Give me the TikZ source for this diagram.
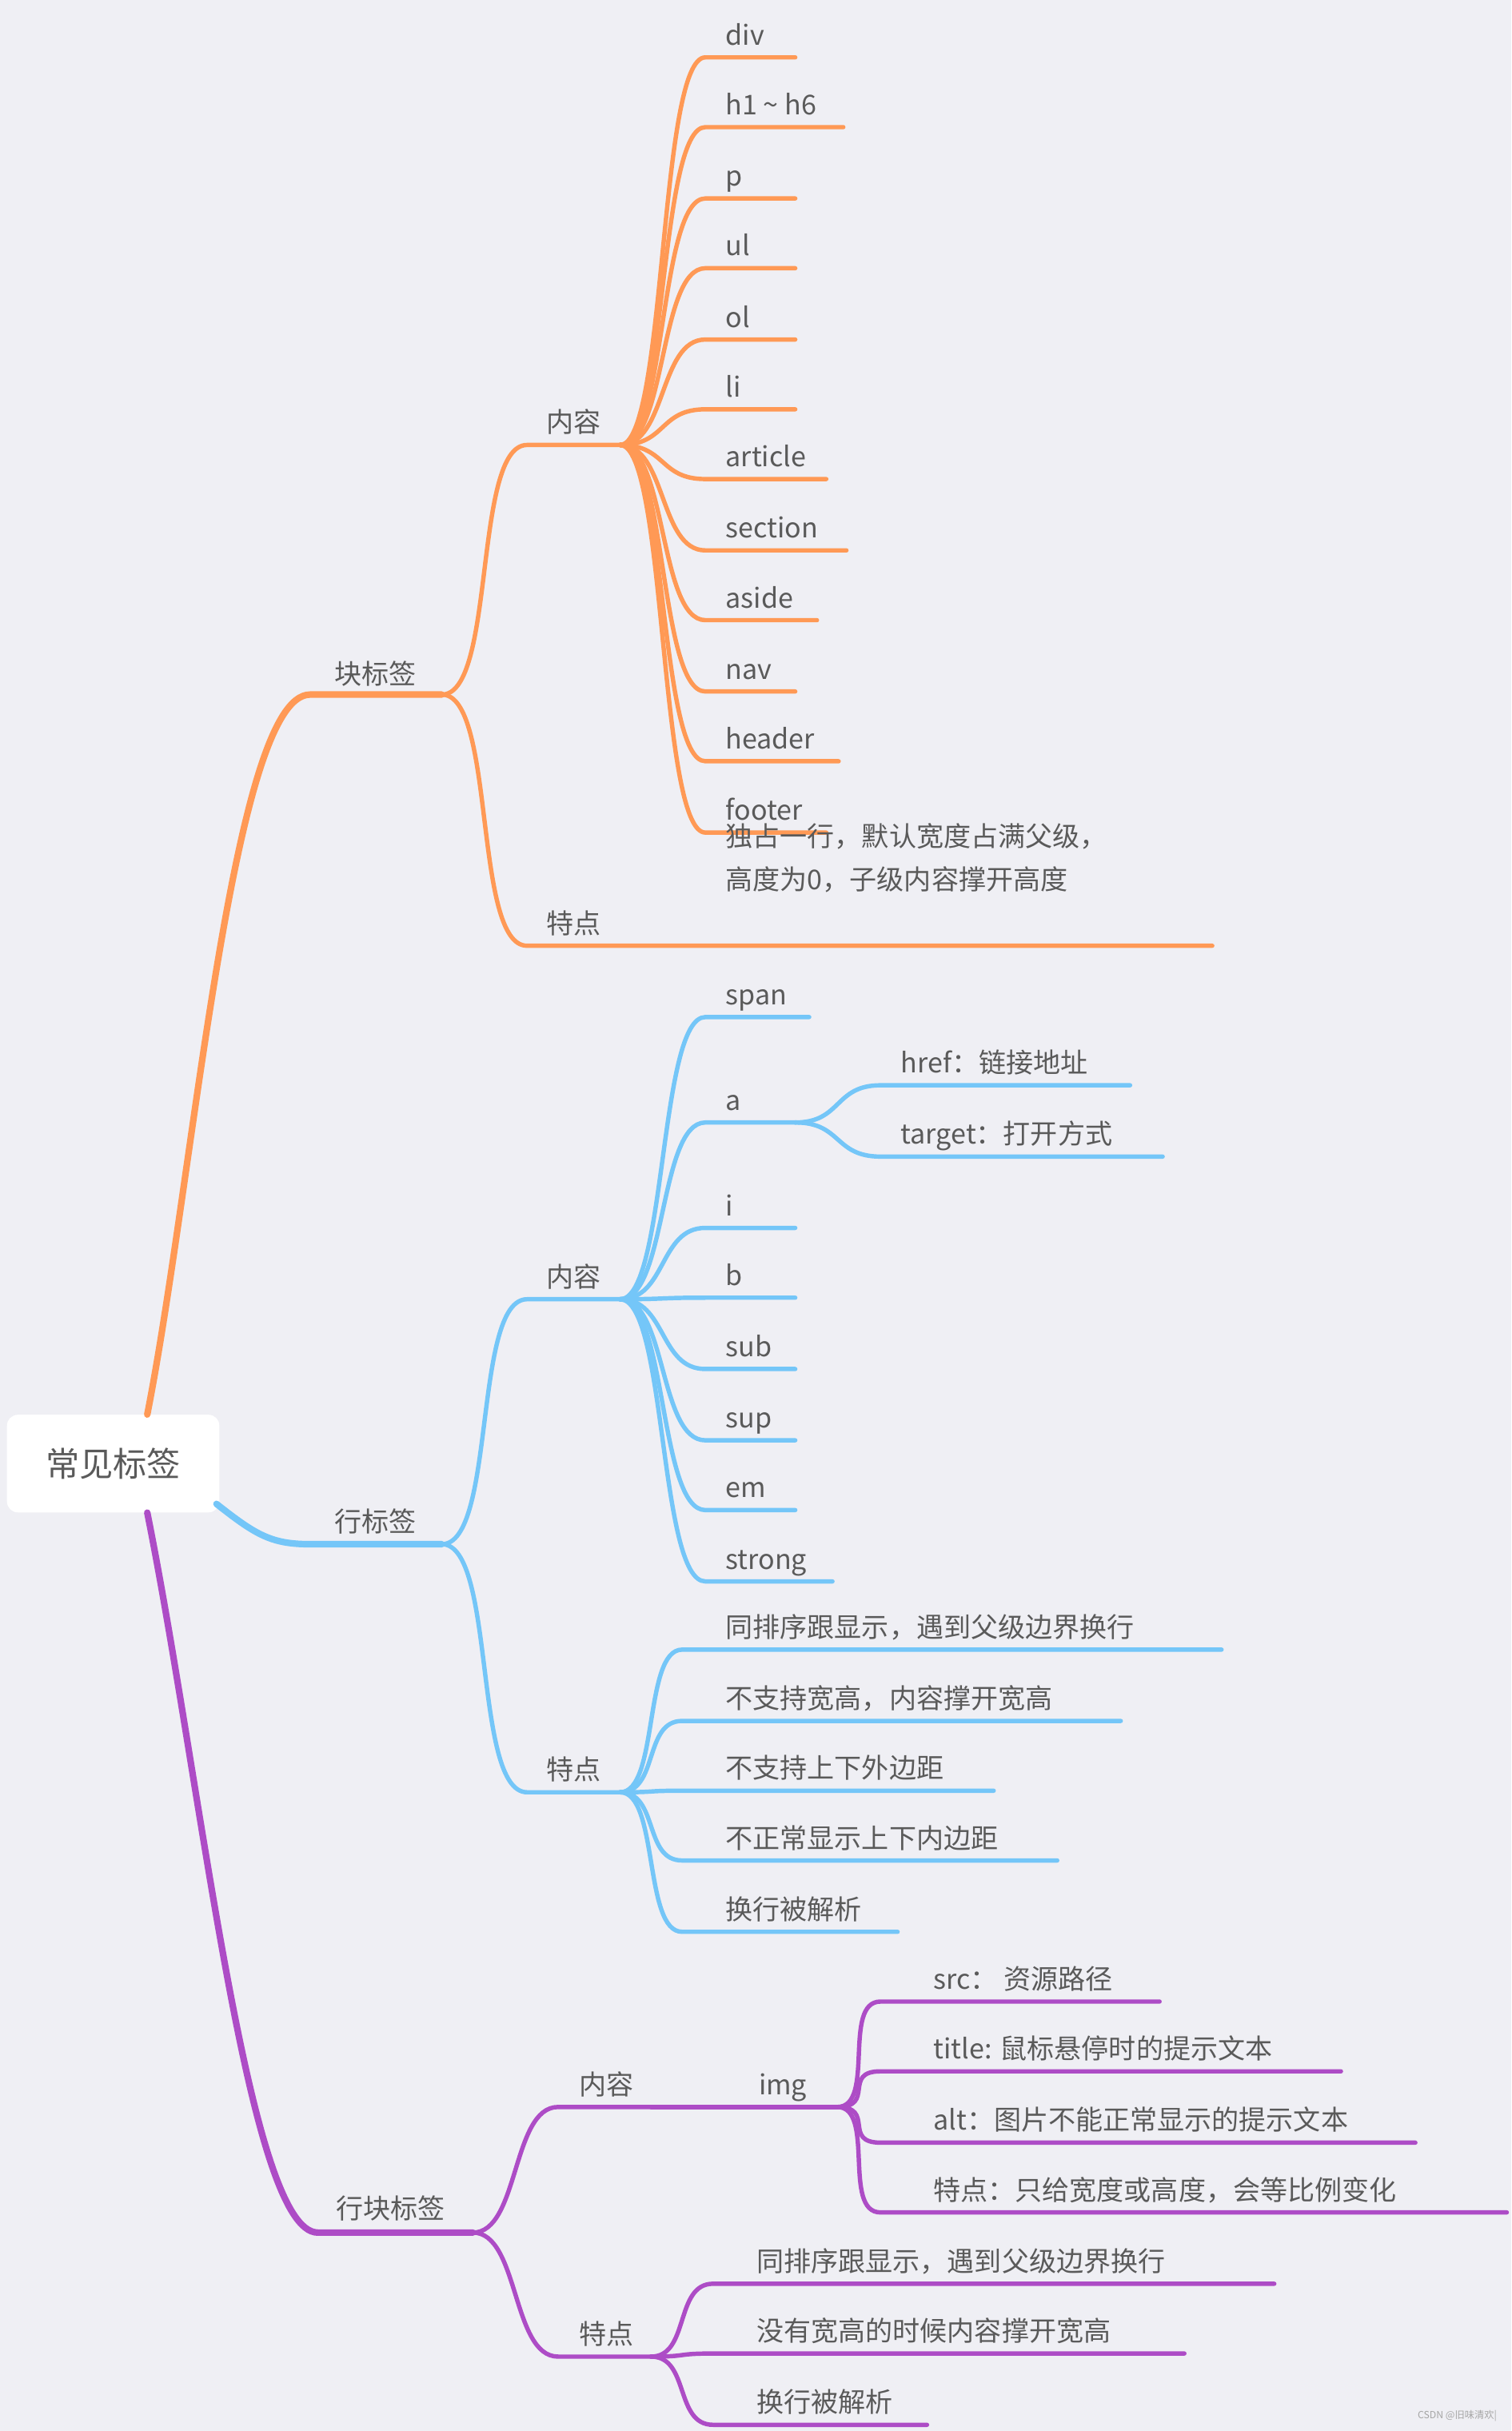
\documentclass[tikz,border=0pt]{standalone}
\usepackage{fontspec}
\setmainfont{Noto Sans CJK SC}
\usetikzlibrary{calc}
\definecolor{bg}{HTML}{EFEFF4}
\definecolor{txt}{HTML}{5A5A5A}
\definecolor{kuai}{HTML}{FF9955}
\definecolor{hang}{HTML}{74C6F8}
\definecolor{hk}{HTML}{AD4CC6}
\newcommand{\fs}{\fontsize{25}{39.7}\selectfont}
\begin{document}
\begin{tikzpicture}[x=0.05cm,y=-0.05cm,
  branch/.style={line width=6pt,line cap=round},
  twig/.style={line width=4pt,line cap=round},
  lbl/.style={anchor=base west,inner sep=0pt,text=txt,font=\fs,align=left},
  mid/.style={anchor=base,inner sep=0pt,text=txt,font=\fs}]
\fill[bg] (0,0) rectangle (975,1568);
\useasboundingbox (0,0) rectangle (975,1568);

% root
\node[fill=white,rounded corners=10pt,minimum width=6.85cm,minimum height=3.15cm,text=txt,font=\fontsize{31}{36}\selectfont] (root) at (73,944) {常见标签};

% ---- block tags
\coordinate (blk-a) at (200,448);
\coordinate (blk-b) at (285,448);
\node[mid] (blk) at (242,441) {块标签};
\draw[branch,kuai] ($(root.north)+(22,0)$) .. controls (125,760) and (150,448) .. (blk-a) -- (blk-b);
\coordinate (bc-a) at (340,287); \coordinate (bc-b) at (400,287);
\node[mid] (bc) at (370,279) {内容};
\draw[twig,kuai] (blk-b) .. controls +(35,0) and +(-35,0) .. (bc-a) -- (bc-b);
\foreach \y/\w/\t [count=\i] in {37/513/div,82/544/h1 \textasciitilde{} h6,128/513/p,173/513/ul,219/513/ol,264/513/li,309/533/article,355/546/section,400/527/aside,446/513/nav,491/541/header,537/533/footer}{
  \node[lbl] (bc\i) at (468,\y-8) {\t};
  \coordinate (bc\i-a) at (455,\y); \coordinate (bc\i-b) at (\w,\y);
  \draw[twig,kuai] (bc-b) .. controls +(30,0) and +(-30,0) .. (bc\i-a) -- (bc\i-b);
}
\coordinate (bt-a) at (340,610); \coordinate (bt-b) at (782,610);
\node[mid] (bt) at (370,602) {特点};
\draw[twig,kuai] (blk-b) .. controls +(35,0) and +(-35,0) .. (bt-a) -- (bt-b);
\node[lbl] (bt1) at (468,574) {独占一行，默认宽度占满父级，\\高度为0，子级内容撑开高度};

% ---- inline tags
\coordinate (inl-a) at (200,996);
\coordinate (inl-b) at (285,996);
\node[mid] (inl) at (242,988) {行标签};
\draw[branch,hang] ($(root.east)+(-2,26)$) .. controls (165,990) and (175,996) .. (inl-a) -- (inl-b);
\coordinate (ic-a) at (340,838); \coordinate (ic-b) at (400,838);
\node[mid] (ic) at (370,830) {内容};
\draw[twig,hang] (inl-b) .. controls +(35,0) and +(-35,0) .. (ic-a) -- (ic-b);
\foreach \y/\w/\t [count=\i] in {656/522/span,724/513/a,792/513/i,837/513/b,883/513/sub,929/513/sup,974/513/em,1020/537/strong}{
  \node[lbl] (ic\i) at (468,\y-8) {\t};
  \coordinate (ic\i-a) at (455,\y); \coordinate (ic\i-b) at (\w,\y);
  \draw[twig,hang] (ic-b) .. controls +(30,0) and +(-30,0) .. (ic\i-a) -- (ic\i-b);
}
\foreach \y/\w/\t [count=\i] in {700/729/href：链接地址,746/750/target：打开方式}{
  \node[lbl] (ia\i) at (581,\y-8) {\t};
  \coordinate (ia\i-a) at (568,\y); \coordinate (ia\i-b) at (\w,\y);
  \draw[twig,hang] (ic2-b) .. controls +(30,0) and +(-30,0) .. (ia\i-a) -- (ia\i-b);
}
\coordinate (it-a) at (340,1156); \coordinate (it-b) at (400,1156);
\node[mid] (it) at (370,1148) {特点};
\draw[twig,hang] (inl-b) .. controls +(35,0) and +(-35,0) .. (it-a) -- (it-b);
\foreach \y/\w/\t [count=\i] in {1064/788/同排序跟显示，遇到父级边界换行,1110/723/不支持宽高，内容撑开宽高,1155/641/不支持上下外边距,1200/682/不正常显示上下内边距,1246/579/换行被解析}{
  \node[lbl] (it\i) at (468,\y-8) {\t};
  \coordinate (it\i-a) at (440,\y); \coordinate (it\i-b) at (\w,\y);
  \draw[twig,hang] (it-b) .. controls +(25,0) and +(-25,0) .. (it\i-a) -- (it\i-b);
}

% ---- inline-block tags
\coordinate (ib-a) at (205,1440);
\coordinate (ib-b) at (305,1440);
\node[mid] (ib) at (252,1431) {行块标签};
\draw[branch,hk] ($(root.south)+(22,0)$) .. controls (130,1150) and (160,1440) .. (ib-a) -- (ib-b);
\coordinate (kc-a) at (360,1359); \coordinate (kc-b) at (420,1359);
\node[mid] (kc) at (391,1351) {内容};
\draw[twig,hk] (ib-b) .. controls +(30,0) and +(-30,0) .. (kc-a) -- (kc-b);
\coordinate (img-b) at (540,1359);
\node[mid] (img) at (505,1351) {img};
\draw[twig,hk] (kc-b) -- (img-b);
\foreach \y/\w/\t [count=\i] in {1291/748/src：\ 资源路径,1336/865/title: 鼠标悬停时的提示文本,1382/913/alt：图片不能正常显示的提示文本,1427/972/特点：只给宽度或高度，会等比例变化}{
  \node[lbl] (kg\i) at (602,\y-8) {\t};
  \coordinate (kg\i-a) at (568,\y); \coordinate (kg\i-b) at (\w,\y);
  \draw[twig,hk] (img-b) .. controls +(25,0) and +(-25,0) .. (kg\i-a) -- (kg\i-b);
}
\coordinate (kt-a) at (360,1520); \coordinate (kt-b) at (420,1520);
\node[mid] (kt) at (391,1512) {特点};
\draw[twig,hk] (ib-b) .. controls +(30,0) and +(-30,0) .. (kt-a) -- (kt-b);
\foreach \y/\w/\t [count=\i] in {1473/822/同排序跟显示，遇到父级边界换行,1518/764/没有宽高的时候内容撑开宽高,1564/598/换行被解析}{
  \node[lbl] (kt\i) at (488,\y-8) {\t};
  \coordinate (kt\i-a) at (460,\y); \coordinate (kt\i-b) at (\w,\y);
  \draw[twig,hk] (kt-b) .. controls +(25,0) and +(-25,0) .. (kt\i-a) -- (kt\i-b);
}

\node[anchor=east,text=gray!70,font=\fontsize{9}{10}\selectfont] (mark) at (968,1558) {CSDN @旧味清欢|};
\end{tikzpicture}
\end{document}
